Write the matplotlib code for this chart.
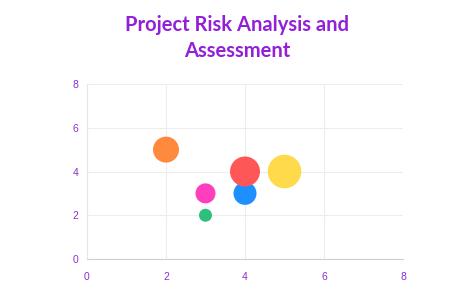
import matplotlib
matplotlib.use("Agg")
import matplotlib.pyplot as plt
import numpy as np

# bubble data (x, y, radius in px)
xs = [2, 4, 5, 3, 3, 4]
ys = [5, 3, 4, 3, 2, 4]
radii = [13, 11.5, 16.8, 10, 6.5, 15]
colors = ["#FF8A3D", "#1E8FFF", "#FFDA4A", "#FF3EBE", "#2EBF7C", "#FF5757"]
ticks = [0, 2, 4, 6, 8]

title = "Project Risk Analysis and\nAssessment"
purple = "#9320D8"

fig = plt.figure(figsize=(4.74, 3.04), dpi=100)
ax = fig.add_axes([87 / 474, 1 - 259 / 304, 316 / 474, 175 / 304])

# radius px -> area in points^2
sizes = [(2 * r * 0.72) ** 2 for r in radii]
ax.scatter(xs, ys, s=sizes, c=colors, linewidths=0, zorder=3)

ax.set_xlim(0, 8)
ax.set_ylim(0, 8)
ax.set_xticks(ticks)
ax.set_yticks(ticks)
ax.grid(True, color="#EDEDED", linewidth=0.8)
ax.tick_params(length=0, labelsize=7.5, labelcolor="#8B2FD0", pad=6)
ax.tick_params(axis="x", pad=9)
for lbl in ax.get_xticklabels() + ax.get_yticklabels():
    lbl.set_family("Liberation Sans")
for side in ["top", "right"]:
    ax.spines[side].set_visible(False)
ax.spines["left"].set_color("#E6E6E6")
ax.spines["bottom"].set_color("#CFCFCF")

fig.text(0.5, 1 - 38 / 304, title, ha="center", va="center", fontsize=14.5,
         fontweight="bold", color=purple, family="Lato", linespacing=1.35)

fig.savefig("out.png", dpi=100, facecolor="white")
